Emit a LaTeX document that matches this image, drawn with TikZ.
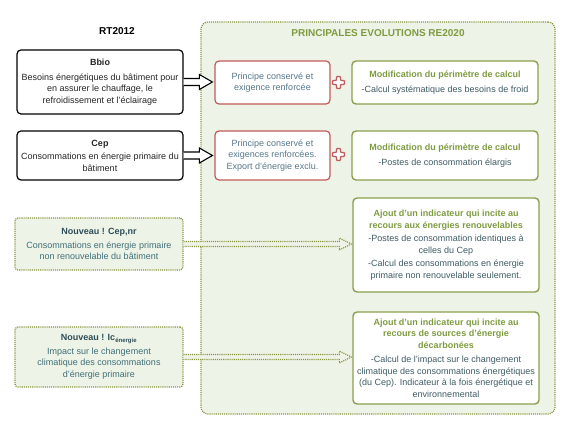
\documentclass[tikz,border=0pt]{standalone}
\usepackage{fontspec}
\setmainfont{Liberation Sans}
\usetikzlibrary{calc}
\definecolor{cfill}{HTML}{EEF3E7}
\definecolor{olivedot}{HTML}{86943C}
\definecolor{gborder}{HTML}{8A9F4C}
\definecolor{gtitle}{HTML}{7F9B40}
\definecolor{bodytxt}{HTML}{3E5C63}
\definecolor{rborder}{HTML}{C25A5A}
\definecolor{ptxt}{HTML}{56788A}
\definecolor{ntitle}{HTML}{2E4E58}
\definecolor{ntxt}{HTML}{3F6F78}
\begin{document}
\begin{tikzpicture}[x=1pt,y=-1pt,
  every node/.style={font=\fontsize{9}{11.5}\selectfont, align=center, inner sep=0pt},
  blackbox/.style={draw=black, line width=1.2pt, rounded corners=4pt, fill=white, text=black!85, minimum width=166pt},
  redbox/.style={draw=rborder, line width=1.2pt, rounded corners=4pt, fill=white, text=ptxt, minimum width=115pt},
  greenbox/.style={draw=gborder, line width=1.4pt, rounded corners=4pt, fill=white, text=bodytxt, minimum width=186pt},
  newbox/.style={draw=olivedot, line width=1.2pt, dash pattern=on 1.1pt off 1pt, rounded corners=3pt, fill=cfill, text=ntxt, minimum width=168pt},
  container/.style={draw=olivedot, line width=1.2pt, dash pattern=on 1.1pt off 1pt, rounded corners=7pt, fill=cfill},
  hollow/.style={draw=black, line width=1.1pt, fill=white, line join=miter},
  dotarrow/.style={draw=olivedot, line width=1.1pt, dash pattern=on 1.1pt off 1pt, fill=cfill},
  redplus/.style={draw=rborder, line width=1.4pt, fill=white, rounded corners=0.8pt},
  heading/.style={font=\fontsize{10}{12}\selectfont\bfseries},
  gt/.style={text=gtitle}
]
\useasboundingbox (0,0) rectangle (570,427);

% container
\node[container, minimum width=354pt, minimum height=392pt] (cont) at (378,218) {};
\node[heading, text=gtitle] (t2) at (378,33) {PRINCIPALES EVOLUTIONS RE2020};
\node[heading, text=black] (t1) at (117,31) {RT2012};

% left boxes
\node[blackbox, minimum height=64pt] (bbio) at (100,82) {\textbf{Bbio}\\[3pt]Besoins énergétiques du bâtiment pour\\en assurer le chauffage, le\\refroidissement et l’éclairage};
\node[blackbox, minimum height=49pt] (cep) at (100,155.5) {\textbf{Cep}\\[2pt]Consommations en énergie primaire du\\bâtiment};
\node[newbox, minimum height=52pt] (cepnr) at (99,244) {\textcolor{ntitle}{\textbf{Nouveau ! Cep,nr}}\\[2pt]Consommations en énergie primaire\\non renouvelable du bâtiment};
\node[newbox, minimum height=60pt] (ic) at (99,357) {\textcolor{ntitle}{\textbf{Nouveau ! Ic\textsubscript{énergie}}}\\[2pt]Impact sur le changement\\climatique des consommations\\d’énergie primaire};

% red boxes
\node[redbox, minimum height=43pt] (p1) at (272.5,82.5) {Principe conservé et\\exigence renforcée};
\node[redbox, minimum height=49pt] (p2) at (272.5,155.5) {Principe conservé et\\exigences renforcées.\\Export d’énergie exclu.};

% green boxes
\node[greenbox, minimum height=43pt] (g1) at (445,82.5) {\textcolor{gtitle}{\textbf{Modification du périmètre de calcul}}\\[3pt]-Calcul systématique des besoins de froid};
\node[greenbox, minimum height=49pt] (g2) at (445,155.5) {\textcolor{gtitle}{\textbf{Modification du périmètre de calcul}}\\[3pt]-Postes de consommation élargis};
\node[greenbox, minimum height=94pt] (g3) at (446,245) {\textcolor{gtitle}{\textbf{Ajout d’un indicateur qui incite au}}\\\textcolor{gtitle}{\textbf{recours aux énergies renouvelables}}\\[2pt]-Postes de consommation identiques à\\celles du Cep\\[2pt]-Calcul des consommations en énergie\\primaire non renouvelable seulement.};
\node[greenbox, minimum height=92pt] (g4) at (446,358) {\textcolor{gtitle}{\textbf{Ajout d’un indicateur qui incite au}}\\\textcolor{gtitle}{\textbf{recours de sources d’énergie}}\\\textcolor{gtitle}{\textbf{décarbonées}}\\[3pt]-Calcul de l’impact sur le changement\\climatique des consommations énergétiques\\(du Cep). Indicateur à la fois énergétique et\\environnemental};

% plus signs
\foreach \py in {82.5,154.5}{
  \draw[redplus] (338.5,\py) ++(-2,-6) -- ++(4,0) -- ++(0,4) -- ++(4,0) -- ++(0,4) -- ++(-4,0) -- ++(0,4) -- ++(-4,0) -- ++(0,-4) -- ++(-4,0) -- ++(0,-4) -- ++(4,0) -- cycle;
}

% hollow arrows
\draw[hollow] ([yshift=3.5pt]bbio.east) -- ([xshift=-15pt,yshift=3.5pt]bbio.east -| p1.west) -- ([xshift=-15pt,yshift=7.5pt]bbio.east -| p1.west) -- ([xshift=-2pt]bbio.east -| p1.west) -- ([xshift=-15pt,yshift=-7.5pt]bbio.east -| p1.west) -- ([xshift=-15pt,yshift=-3.5pt]bbio.east -| p1.west) -- ([yshift=-3.5pt]bbio.east);
\draw[hollow] ([yshift=3.5pt]cep.east) -- ([xshift=-15pt,yshift=3.5pt]cep.east -| p2.west) -- ([xshift=-15pt,yshift=7.5pt]cep.east -| p2.west) -- ([xshift=-2pt]cep.east -| p2.west) -- ([xshift=-15pt,yshift=-7.5pt]cep.east -| p2.west) -- ([xshift=-15pt,yshift=-3.5pt]cep.east -| p2.west) -- ([yshift=-3.5pt]cep.east);

% dotted arrows
\draw[dotarrow] ([yshift=2.5pt]cepnr.east) -- ([xshift=-13pt,yshift=2.5pt]cepnr.east -| g3.west) -- ([xshift=-13pt,yshift=6pt]cepnr.east -| g3.west) -- ([xshift=-1pt]cepnr.east -| g3.west) -- ([xshift=-13pt,yshift=-6pt]cepnr.east -| g3.west) -- ([xshift=-13pt,yshift=-2.5pt]cepnr.east -| g3.west) -- ([yshift=-2.5pt]cepnr.east);
\draw[dotarrow] ([yshift=2.5pt]ic.east) -- ([xshift=-13pt,yshift=2.5pt]ic.east -| g4.west) -- ([xshift=-13pt,yshift=6pt]ic.east -| g4.west) -- ([xshift=-1pt]ic.east -| g4.west) -- ([xshift=-13pt,yshift=-6pt]ic.east -| g4.west) -- ([xshift=-13pt,yshift=-2.5pt]ic.east -| g4.west) -- ([yshift=-2.5pt]ic.east);
\end{tikzpicture}
\end{document}
